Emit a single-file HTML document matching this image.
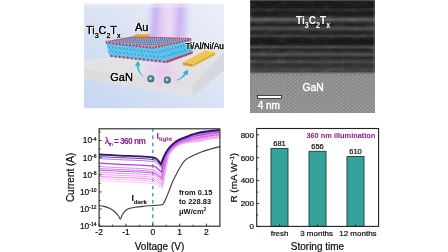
<!DOCTYPE html>
<html><head><meta charset="utf-8"><title>figure</title>
<style>html,body{margin:0;padding:0;background:#fff;}svg{display:block;}</style>
</head><body>
<svg width="448" height="252" viewBox="0 0 448 252">
<defs>
<clipPath id="cpI"><rect x="84" y="3.6" width="140" height="104.8"/></clipPath>
<linearGradient id="gBg" x1="0" y1="1" x2="1" y2="0">
 <stop offset="0" stop-color="#c6d7f0"/><stop offset="0.45" stop-color="#d8e2f4"/><stop offset="1" stop-color="#eceef9"/>
</linearGradient>
<linearGradient id="gBeam" x1="0" y1="0" x2="1" y2="0">
 <stop offset="0" stop-color="#c8b4ec" stop-opacity="0"/>
 <stop offset="0.2" stop-color="#cdb4f0" stop-opacity="0.8"/>
 <stop offset="0.5" stop-color="#f2daf8" stop-opacity="0.95"/>
 <stop offset="0.8" stop-color="#cdb4f0" stop-opacity="0.8"/>
 <stop offset="1" stop-color="#c8b4ec" stop-opacity="0"/>
</linearGradient>
<linearGradient id="gTop" x1="0" y1="0" x2="0" y2="1">
 <stop offset="0" stop-color="#e4e4e7"/><stop offset="1" stop-color="#e0e0e3"/>
</linearGradient>
<linearGradient id="gFront" x1="0" y1="0" x2="0" y2="1">
 <stop offset="0" stop-color="#dadadd"/><stop offset="1" stop-color="#e4e4e8"/>
</linearGradient>
<radialGradient id="gGlow" cx="0.5" cy="0.5" r="0.5">
 <stop offset="0" stop-color="#e8c4f0" stop-opacity="0.95"/><stop offset="0.6" stop-color="#ecd0f2" stop-opacity="0.6"/><stop offset="1" stop-color="#f0d8f4" stop-opacity="0"/>
</radialGradient>
<radialGradient id="gBall" cx="0.5" cy="0.5" r="0.55" fx="0.42" fy="0.42">
 <stop offset="0" stop-color="#f0ffff"/><stop offset="0.18" stop-color="#9cdcdc"/><stop offset="0.5" stop-color="#3c949a"/><stop offset="1" stop-color="#1c5660"/>
</radialGradient>
<linearGradient id="gGold" x1="0" y1="0" x2="0" y2="1">
 <stop offset="0" stop-color="#f3cf5a"/><stop offset="1" stop-color="#e0a92a"/>
</linearGradient>
<linearGradient id="gMx" x1="0" y1="36" x2="0" y2="64" gradientUnits="userSpaceOnUse">
 <stop offset="0" stop-color="#e8283c"/><stop offset="0.12" stop-color="#e8283c"/>
 <stop offset="0.2" stop-color="#38c8f0"/><stop offset="0.35" stop-color="#4aa8dc"/>
 <stop offset="0.5" stop-color="#38c8f0"/><stop offset="0.65" stop-color="#4aa0d8"/>
 <stop offset="0.8" stop-color="#38c8f0"/><stop offset="0.9" stop-color="#5a90c8"/>
 <stop offset="1" stop-color="#e8283c"/>
</linearGradient>
<pattern id="pMx" x="0" y="0" width="3" height="3" patternUnits="userSpaceOnUse" patternTransform="skewX(-40)">
 <rect width="3" height="3" fill="#5ab8e8"/>
 <circle cx="1.5" cy="1.5" r="1" fill="#3fd0f2"/>
</pattern>
</defs>
<g clip-path="url(#cpI)">
<rect x="84" y="3.6" width="140" height="104.8" fill="url(#gBg)"/>
<filter id="fb" x="-0.5" y="-0.2" width="2" height="1.4"><feGaussianBlur stdDeviation="2.2"/></filter>
<g filter="url(#fb)">
<polygon points="151,0 191,0 186,42 146,42" fill="url(#gBeam)"/>
<polygon points="156,0 159.5,0 154.5,40 151,40" fill="#b090e8" opacity="0.45"/>
<polygon points="180,0 183.5,0 178.5,40 175,40" fill="#b090e8" opacity="0.45"/>
</g>
<rect x="84" y="3.6" width="140" height="4" fill="#eef0fa" opacity="0.45"/>
<polygon points="80.0,60.2 225.0,46.5 225.0,51.3 192.6,85.0 80.0,69.0" fill="url(#gTop)"/>
<polygon points="80.0,69.0 192.6,85.0 192.6,97.1 80.0,78.2" fill="url(#gFront)"/>
<polygon points="192.6,85.0 225.0,51.3 225.0,69.5 192.6,97.1" fill="#d6d7dc"/>
<ellipse cx="162" cy="72" rx="22" ry="20" fill="url(#gGlow)"/>
<polygon points="105.6,41.4 133.5,36.5 191.0,38.3 152.0,46.5" fill="#78c6ee"/>
<polygon points="105.6,41.4 152.0,46.5 167.0,63.3 110.0,57.0" fill="#70c8f0"/>
<polygon points="152.0,46.5 191.0,38.3 192.6,53.7 167.0,63.3" fill="#70c8f0"/>
<clipPath id="cpFF"><polygon points="105.6,41.4 152.0,46.5 167.0,63.3 110.0,57.0"/></clipPath><clipPath id="cpRF"><polygon points="152.0,46.5 191.0,38.3 192.6,53.7 167.0,63.3"/></clipPath><clipPath id="cpTF"><polygon points="105.6,41.4 133.5,36.5 191.0,38.3 152.0,46.5"/></clipPath>
<g clip-path="url(#cpFF)">
<path d="M107.80,50.28L108.54,51.45L109.31,52.62M108.47,46.02L109.21,47.19L109.98,48.36M111.55,50.70L112.34,51.87L113.16,53.04M112.00,46.41L112.80,47.58L113.62,48.76M115.30,51.11L116.14,52.29L117.02,53.47M115.53,46.80L116.38,47.98L117.26,49.16M119.04,51.52L119.95,52.71L120.87,53.89M119.06,47.19L119.97,48.37L120.90,49.56M122.79,51.94L123.75,53.13L124.73,54.32M122.59,47.58L123.55,48.77L124.54,49.96M126.54,52.35L127.55,53.55L128.59,54.74M126.12,47.97L127.14,49.16L128.18,50.36M130.28,52.76L131.35,53.96L132.44,55.17M129.65,48.36L130.72,49.56L131.82,50.76M134.03,53.18L135.15,54.38L136.30,55.59M133.18,48.74L134.31,49.95L135.45,51.16M137.78,53.59L138.95,54.80L140.15,56.02M136.71,49.13L137.89,50.35L139.09,51.57M141.53,54.00L142.75,55.22L144.01,56.45M140.24,49.52L141.47,50.74L142.73,51.97M145.27,54.42L146.56,55.64L147.86,56.87M143.77,49.91L145.06,51.14L146.37,52.37M149.02,54.83L150.36,56.06L151.72,57.30M147.30,50.30L148.64,51.53L150.01,52.77M152.77,55.24L154.16,56.48L155.58,57.72M150.83,50.69L152.23,51.93L153.65,53.17M156.51,55.66L157.96,56.90L159.43,58.15M154.36,51.08L155.81,52.32L157.29,53.57M160.26,56.07L161.76,57.32L163.29,58.57" stroke="#5c92c8" stroke-width="0.7" fill="none" stroke-linecap="round"/>
<path d="M109.31,52.62L110.07,53.78L110.86,54.95M107.01,43.70L107.73,44.86L108.47,46.02M109.98,48.36L110.75,49.53L111.55,50.70M113.16,53.04L113.98,54.22L114.83,55.39M110.43,44.07L111.20,45.24L112.00,46.41M113.62,48.76L114.45,49.93L115.30,51.11M117.02,53.47L117.89,54.65L118.79,55.83M113.85,44.45L114.68,45.62L115.53,46.80M117.26,49.16L118.14,50.34L119.04,51.52M120.87,53.89L121.80,55.08L122.76,56.27M117.27,44.83L118.15,46.01L119.06,47.19M120.90,49.56L121.83,50.75L122.79,51.94M124.73,54.32L125.71,55.51L126.72,56.71M120.69,45.20L121.63,46.39L122.59,47.58M124.54,49.96L125.53,51.15L126.54,52.35M128.59,54.74L129.62,55.94L130.68,57.14M124.11,45.58L125.10,46.77L126.12,47.97M128.18,50.36L129.22,51.56L130.28,52.76M132.44,55.17L133.53,56.37L134.65,57.58M127.53,45.95L128.58,47.15L129.65,48.36M131.82,50.76L132.91,51.97L134.03,53.18M136.30,55.59L137.44,56.81L138.61,58.02M130.96,46.33L132.06,47.54L133.18,48.74M135.45,51.16L136.60,52.38L137.78,53.59M140.15,56.02L141.35,57.24L142.58,58.46M134.38,46.71L135.53,47.92L136.71,49.13M139.09,51.57L140.30,52.78L141.53,54.00M144.01,56.45L145.26,57.67L146.54,58.89M137.80,47.08L139.01,48.30L140.24,49.52M142.73,51.97L143.99,53.19L145.27,54.42M147.86,56.87L149.17,58.10L150.50,59.33M141.22,47.46L142.48,48.68L143.77,49.91M146.37,52.37L147.68,53.60L149.02,54.83M151.72,57.30L153.08,58.53L154.47,59.77M144.64,47.84L145.96,49.07L147.30,50.30M150.01,52.77L151.38,54.00L152.77,55.24M155.58,57.72L156.99,58.96L158.43,60.21M148.06,48.21L149.43,49.45L150.83,50.69M153.65,53.17L155.07,54.41L156.51,55.66M159.43,58.15L160.90,59.40L162.40,60.65M151.49,48.59L152.91,49.83L154.36,51.08M157.29,53.57L158.76,54.82L160.26,56.07" stroke="#22d2fa" stroke-width="0.7" fill="none" stroke-linecap="round"/>
<path d="M110.86,54.95L111.65,56.12L111.65,56.12M106.29,42.53L106.29,42.53L107.01,43.70M114.83,55.39L115.67,56.57L115.67,56.57M109.65,42.90L109.65,42.90L110.43,44.07M118.79,55.83L119.69,57.01L119.69,57.01M113.02,43.27L113.02,43.27L113.85,44.45M122.76,56.27L123.71,57.46L123.71,57.46M116.39,43.64L116.39,43.64L117.27,44.83M126.72,56.71L127.73,57.90L127.73,57.90M119.75,44.01L119.75,44.01L120.69,45.20M130.68,57.14L131.75,58.34L131.75,58.34M123.12,44.38L123.12,44.38L124.11,45.58M134.65,57.58L135.76,58.79L135.76,58.79M126.49,44.76L126.49,44.76L127.53,45.95M138.61,58.02L139.78,59.23L139.78,59.23M129.86,45.13L129.86,45.13L130.96,46.33M142.58,58.46L143.80,59.68L143.80,59.68M133.22,45.50L133.22,45.50L134.38,46.71M146.54,58.89L147.82,60.12L147.82,60.12M136.59,45.87L136.59,45.87L137.80,47.08M150.50,59.33L151.84,60.56L151.84,60.56M139.96,46.24L139.96,46.24L141.22,47.46M154.47,59.77L155.86,61.01L155.86,61.01M143.33,46.61L143.33,46.61L144.64,47.84M158.43,60.21L159.87,61.45L159.87,61.45M146.69,46.98L146.69,46.98L148.06,48.21M162.40,60.65L163.89,61.90L163.89,61.90M150.06,47.35L150.06,47.35L151.49,48.59M153.43,47.72L153.43,47.72L154.91,48.97" stroke="#e8283c" stroke-width="0.7" fill="none" stroke-linecap="round"/>
<path d="M107.59,51.45a0.95,0.95 0 1,0 1.9,0a0.95,0.95 0 1,0 -1.9,0M108.26,47.19a0.95,0.95 0 1,0 1.9,0a0.95,0.95 0 1,0 -1.9,0M111.39,51.87a0.95,0.95 0 1,0 1.9,0a0.95,0.95 0 1,0 -1.9,0M111.85,47.58a0.95,0.95 0 1,0 1.9,0a0.95,0.95 0 1,0 -1.9,0M115.19,52.29a0.95,0.95 0 1,0 1.9,0a0.95,0.95 0 1,0 -1.9,0M115.43,47.98a0.95,0.95 0 1,0 1.9,0a0.95,0.95 0 1,0 -1.9,0M119.00,52.71a0.95,0.95 0 1,0 1.9,0a0.95,0.95 0 1,0 -1.9,0M119.02,48.37a0.95,0.95 0 1,0 1.9,0a0.95,0.95 0 1,0 -1.9,0M122.80,53.13a0.95,0.95 0 1,0 1.9,0a0.95,0.95 0 1,0 -1.9,0M122.60,48.77a0.95,0.95 0 1,0 1.9,0a0.95,0.95 0 1,0 -1.9,0M126.60,53.55a0.95,0.95 0 1,0 1.9,0a0.95,0.95 0 1,0 -1.9,0M126.19,49.16a0.95,0.95 0 1,0 1.9,0a0.95,0.95 0 1,0 -1.9,0M130.40,53.96a0.95,0.95 0 1,0 1.9,0a0.95,0.95 0 1,0 -1.9,0M129.77,49.56a0.95,0.95 0 1,0 1.9,0a0.95,0.95 0 1,0 -1.9,0M134.20,54.38a0.95,0.95 0 1,0 1.9,0a0.95,0.95 0 1,0 -1.9,0M133.36,49.95a0.95,0.95 0 1,0 1.9,0a0.95,0.95 0 1,0 -1.9,0M138.00,54.80a0.95,0.95 0 1,0 1.9,0a0.95,0.95 0 1,0 -1.9,0M136.94,50.35a0.95,0.95 0 1,0 1.9,0a0.95,0.95 0 1,0 -1.9,0M141.80,55.22a0.95,0.95 0 1,0 1.9,0a0.95,0.95 0 1,0 -1.9,0M140.52,50.74a0.95,0.95 0 1,0 1.9,0a0.95,0.95 0 1,0 -1.9,0M145.61,55.64a0.95,0.95 0 1,0 1.9,0a0.95,0.95 0 1,0 -1.9,0M144.11,51.14a0.95,0.95 0 1,0 1.9,0a0.95,0.95 0 1,0 -1.9,0M149.41,56.06a0.95,0.95 0 1,0 1.9,0a0.95,0.95 0 1,0 -1.9,0M147.69,51.53a0.95,0.95 0 1,0 1.9,0a0.95,0.95 0 1,0 -1.9,0M153.21,56.48a0.95,0.95 0 1,0 1.9,0a0.95,0.95 0 1,0 -1.9,0M151.28,51.93a0.95,0.95 0 1,0 1.9,0a0.95,0.95 0 1,0 -1.9,0M157.01,56.90a0.95,0.95 0 1,0 1.9,0a0.95,0.95 0 1,0 -1.9,0M154.86,52.32a0.95,0.95 0 1,0 1.9,0a0.95,0.95 0 1,0 -1.9,0M160.81,57.32a0.95,0.95 0 1,0 1.9,0a0.95,0.95 0 1,0 -1.9,0" fill="#5c92c8"/>
<path d="M109.12,53.78a0.95,0.95 0 1,0 1.9,0a0.95,0.95 0 1,0 -1.9,0M106.78,44.86a0.95,0.95 0 1,0 1.9,0a0.95,0.95 0 1,0 -1.9,0M109.80,49.53a0.95,0.95 0 1,0 1.9,0a0.95,0.95 0 1,0 -1.9,0M113.03,54.22a0.95,0.95 0 1,0 1.9,0a0.95,0.95 0 1,0 -1.9,0M110.25,45.24a0.95,0.95 0 1,0 1.9,0a0.95,0.95 0 1,0 -1.9,0M113.50,49.93a0.95,0.95 0 1,0 1.9,0a0.95,0.95 0 1,0 -1.9,0M116.94,54.65a0.95,0.95 0 1,0 1.9,0a0.95,0.95 0 1,0 -1.9,0M113.73,45.62a0.95,0.95 0 1,0 1.9,0a0.95,0.95 0 1,0 -1.9,0M117.19,50.34a0.95,0.95 0 1,0 1.9,0a0.95,0.95 0 1,0 -1.9,0M120.85,55.08a0.95,0.95 0 1,0 1.9,0a0.95,0.95 0 1,0 -1.9,0M117.20,46.01a0.95,0.95 0 1,0 1.9,0a0.95,0.95 0 1,0 -1.9,0M120.88,50.75a0.95,0.95 0 1,0 1.9,0a0.95,0.95 0 1,0 -1.9,0M124.76,55.51a0.95,0.95 0 1,0 1.9,0a0.95,0.95 0 1,0 -1.9,0M120.68,46.39a0.95,0.95 0 1,0 1.9,0a0.95,0.95 0 1,0 -1.9,0M124.58,51.15a0.95,0.95 0 1,0 1.9,0a0.95,0.95 0 1,0 -1.9,0M128.67,55.94a0.95,0.95 0 1,0 1.9,0a0.95,0.95 0 1,0 -1.9,0M124.15,46.77a0.95,0.95 0 1,0 1.9,0a0.95,0.95 0 1,0 -1.9,0M128.27,51.56a0.95,0.95 0 1,0 1.9,0a0.95,0.95 0 1,0 -1.9,0M132.58,56.37a0.95,0.95 0 1,0 1.9,0a0.95,0.95 0 1,0 -1.9,0M127.63,47.15a0.95,0.95 0 1,0 1.9,0a0.95,0.95 0 1,0 -1.9,0M131.96,51.97a0.95,0.95 0 1,0 1.9,0a0.95,0.95 0 1,0 -1.9,0M136.49,56.81a0.95,0.95 0 1,0 1.9,0a0.95,0.95 0 1,0 -1.9,0M131.11,47.54a0.95,0.95 0 1,0 1.9,0a0.95,0.95 0 1,0 -1.9,0M135.65,52.38a0.95,0.95 0 1,0 1.9,0a0.95,0.95 0 1,0 -1.9,0M140.40,57.24a0.95,0.95 0 1,0 1.9,0a0.95,0.95 0 1,0 -1.9,0M134.58,47.92a0.95,0.95 0 1,0 1.9,0a0.95,0.95 0 1,0 -1.9,0M139.35,52.78a0.95,0.95 0 1,0 1.9,0a0.95,0.95 0 1,0 -1.9,0M144.31,57.67a0.95,0.95 0 1,0 1.9,0a0.95,0.95 0 1,0 -1.9,0M138.06,48.30a0.95,0.95 0 1,0 1.9,0a0.95,0.95 0 1,0 -1.9,0M143.04,53.19a0.95,0.95 0 1,0 1.9,0a0.95,0.95 0 1,0 -1.9,0M148.22,58.10a0.95,0.95 0 1,0 1.9,0a0.95,0.95 0 1,0 -1.9,0M141.53,48.68a0.95,0.95 0 1,0 1.9,0a0.95,0.95 0 1,0 -1.9,0M146.73,53.60a0.95,0.95 0 1,0 1.9,0a0.95,0.95 0 1,0 -1.9,0M152.13,58.53a0.95,0.95 0 1,0 1.9,0a0.95,0.95 0 1,0 -1.9,0M145.01,49.07a0.95,0.95 0 1,0 1.9,0a0.95,0.95 0 1,0 -1.9,0M150.43,54.00a0.95,0.95 0 1,0 1.9,0a0.95,0.95 0 1,0 -1.9,0M156.04,58.96a0.95,0.95 0 1,0 1.9,0a0.95,0.95 0 1,0 -1.9,0M148.48,49.45a0.95,0.95 0 1,0 1.9,0a0.95,0.95 0 1,0 -1.9,0M154.12,54.41a0.95,0.95 0 1,0 1.9,0a0.95,0.95 0 1,0 -1.9,0M159.95,59.40a0.95,0.95 0 1,0 1.9,0a0.95,0.95 0 1,0 -1.9,0M151.96,49.83a0.95,0.95 0 1,0 1.9,0a0.95,0.95 0 1,0 -1.9,0M157.81,54.82a0.95,0.95 0 1,0 1.9,0a0.95,0.95 0 1,0 -1.9,0" fill="#22d2fa"/>
<path d="M110.51,56.12a1.14,1.14 0 1,0 2.28,0a1.14,1.14 0 1,0 -2.28,0M105.15,42.53a1.14,1.14 0 1,0 2.28,0a1.14,1.14 0 1,0 -2.28,0M114.53,56.57a1.14,1.14 0 1,0 2.28,0a1.14,1.14 0 1,0 -2.28,0M108.51,42.90a1.14,1.14 0 1,0 2.28,0a1.14,1.14 0 1,0 -2.28,0M118.55,57.01a1.14,1.14 0 1,0 2.28,0a1.14,1.14 0 1,0 -2.28,0M111.88,43.27a1.14,1.14 0 1,0 2.28,0a1.14,1.14 0 1,0 -2.28,0M122.57,57.46a1.14,1.14 0 1,0 2.28,0a1.14,1.14 0 1,0 -2.28,0M115.25,43.64a1.14,1.14 0 1,0 2.28,0a1.14,1.14 0 1,0 -2.28,0M126.59,57.90a1.14,1.14 0 1,0 2.28,0a1.14,1.14 0 1,0 -2.28,0M118.61,44.01a1.14,1.14 0 1,0 2.28,0a1.14,1.14 0 1,0 -2.28,0M130.61,58.34a1.14,1.14 0 1,0 2.28,0a1.14,1.14 0 1,0 -2.28,0M121.98,44.38a1.14,1.14 0 1,0 2.28,0a1.14,1.14 0 1,0 -2.28,0M134.62,58.79a1.14,1.14 0 1,0 2.28,0a1.14,1.14 0 1,0 -2.28,0M125.35,44.76a1.14,1.14 0 1,0 2.28,0a1.14,1.14 0 1,0 -2.28,0M138.64,59.23a1.14,1.14 0 1,0 2.28,0a1.14,1.14 0 1,0 -2.28,0M128.72,45.13a1.14,1.14 0 1,0 2.28,0a1.14,1.14 0 1,0 -2.28,0M142.66,59.68a1.14,1.14 0 1,0 2.28,0a1.14,1.14 0 1,0 -2.28,0M132.08,45.50a1.14,1.14 0 1,0 2.28,0a1.14,1.14 0 1,0 -2.28,0M146.68,60.12a1.14,1.14 0 1,0 2.28,0a1.14,1.14 0 1,0 -2.28,0M135.45,45.87a1.14,1.14 0 1,0 2.28,0a1.14,1.14 0 1,0 -2.28,0M150.70,60.56a1.14,1.14 0 1,0 2.28,0a1.14,1.14 0 1,0 -2.28,0M138.82,46.24a1.14,1.14 0 1,0 2.28,0a1.14,1.14 0 1,0 -2.28,0M154.72,61.01a1.14,1.14 0 1,0 2.28,0a1.14,1.14 0 1,0 -2.28,0M142.19,46.61a1.14,1.14 0 1,0 2.28,0a1.14,1.14 0 1,0 -2.28,0M158.73,61.45a1.14,1.14 0 1,0 2.28,0a1.14,1.14 0 1,0 -2.28,0M145.55,46.98a1.14,1.14 0 1,0 2.28,0a1.14,1.14 0 1,0 -2.28,0M162.75,61.90a1.14,1.14 0 1,0 2.28,0a1.14,1.14 0 1,0 -2.28,0M148.92,47.35a1.14,1.14 0 1,0 2.28,0a1.14,1.14 0 1,0 -2.28,0M152.29,47.72a1.14,1.14 0 1,0 2.28,0a1.14,1.14 0 1,0 -2.28,0" fill="#e8283c"/>
</g><g clip-path="url(#cpRF)">
<path d="M153.05,47.68L153.05,47.68L154.12,48.88M164.88,60.92L165.95,62.12L165.95,62.12M155.98,47.04L155.98,47.04L156.98,48.23M166.99,60.20L167.99,61.39L167.99,61.39M158.91,46.40L158.91,46.40L159.83,47.59M169.11,59.47L170.03,60.66L170.03,60.66M161.83,45.76L161.83,45.76L162.69,46.94M171.22,58.75L172.07,59.93L172.07,59.93M164.76,45.12L164.76,45.12L165.54,46.30M173.34,58.03L174.12,59.20L174.12,59.20M167.69,44.48L167.69,44.48L168.39,45.65M175.45,57.30L176.16,58.47L176.16,58.47M170.62,43.85L170.62,43.85L171.25,45.00M177.57,56.58L178.20,57.74L178.20,57.74M173.54,43.21L173.54,43.21L174.10,44.36M179.68,55.86L180.24,57.01L180.24,57.01M176.47,42.57L176.47,42.57L176.96,43.71M181.80,55.13L182.28,56.28L182.28,56.28M179.40,41.93L179.40,41.93L179.81,43.07M183.91,54.41L184.32,55.55L184.32,55.55M182.33,41.29L182.33,41.29L182.66,42.42M186.03,53.69L186.36,54.81L186.36,54.81M185.26,40.65L185.26,40.65L185.52,41.77M188.14,52.96L188.41,54.08L188.41,54.08M188.18,40.02L188.18,40.02L188.37,41.13M190.26,52.24L190.45,53.35L190.45,53.35M191.11,39.38L191.11,39.38L191.23,40.48M192.37,51.52L192.49,52.62L192.49,52.62" stroke="#e8283c" stroke-width="0.7" fill="none" stroke-linecap="round"/>
<path d="M154.12,48.88L155.20,50.08L156.27,51.29M158.43,53.70L159.50,54.90L160.57,56.10M162.73,58.51L163.80,59.72L164.88,60.92M156.98,48.23L157.98,49.43L158.98,50.63M160.98,53.02L161.98,54.22L162.99,55.41M164.99,57.80L165.99,59.00L166.99,60.20M159.83,47.59L160.76,48.78L161.69,49.97M163.54,52.34L164.47,53.53L165.40,54.72M167.25,57.10L168.18,58.29L169.11,59.47M162.69,46.94L163.54,48.12L164.39,49.30M166.10,51.67L166.95,52.85L167.81,54.03M169.51,56.39L170.37,57.57L171.22,58.75M165.54,46.30L166.32,47.47L167.10,48.64M168.66,50.99L169.44,52.16L170.22,53.33M171.78,55.68L172.56,56.85L173.34,58.03M168.39,45.65L169.10,46.82L169.81,47.98M171.22,50.31L171.92,51.48L172.63,52.64M174.04,54.97L174.75,56.14L175.45,57.30M171.25,45.00L171.88,46.16L172.51,47.32M173.78,49.63L174.41,50.79L175.04,51.95M176.30,54.27L176.93,55.42L177.57,56.58M174.10,44.36L174.66,45.51L175.22,46.66M176.33,48.96L176.89,50.11L177.45,51.26M178.57,53.56L179.12,54.71L179.68,55.86M176.96,43.71L177.44,44.85L177.92,46.00M178.89,48.28L179.38,49.42L179.86,50.57M180.83,52.85L181.31,53.99L181.80,55.13M179.81,43.07L180.22,44.20L180.63,45.33M181.45,47.60L181.86,48.74L182.27,49.87M183.09,52.14L183.50,53.28L183.91,54.41M182.66,42.42L183.00,43.55L183.34,44.67M184.01,46.93L184.35,48.05L184.68,49.18M185.36,51.43L185.69,52.56L186.03,53.69M185.52,41.77L185.78,42.89L186.04,44.01M186.57,46.25L186.83,47.37L187.09,48.49M187.62,50.73L187.88,51.85L188.14,52.96M188.37,41.13L188.56,42.24L188.75,43.35M189.13,45.57L189.32,46.68L189.50,47.80M189.88,50.02L190.07,51.13L190.26,52.24M191.23,40.48L191.34,41.59L191.46,42.69M191.69,44.90L191.80,46.00L191.91,47.10M192.14,49.31L192.26,50.41L192.37,51.52" stroke="#22d2fa" stroke-width="0.7" fill="none" stroke-linecap="round"/>
<path d="M156.27,51.29L157.35,52.49L158.43,53.70M160.57,56.10L161.65,57.31L162.73,58.51M158.98,50.63L159.98,51.82L160.98,53.02M162.99,55.41L163.99,56.61L164.99,57.80M161.69,49.97L162.61,51.15L163.54,52.34M165.40,54.72L166.32,55.91L167.25,57.10M164.39,49.30L165.25,50.48L166.10,51.67M167.81,54.03L168.66,55.21L169.51,56.39M167.10,48.64L167.88,49.82L168.66,50.99M170.22,53.33L171.00,54.51L171.78,55.68M169.81,47.98L170.51,49.15L171.22,50.31M172.63,52.64L173.33,53.81L174.04,54.97M172.51,47.32L173.14,48.48L173.78,49.63M175.04,51.95L175.67,53.11L176.30,54.27M175.22,46.66L175.78,47.81L176.33,48.96M177.45,51.26L178.01,52.41L178.57,53.56M177.92,46.00L178.41,47.14L178.89,48.28M179.86,50.57L180.34,51.71L180.83,52.85M180.63,45.33L181.04,46.47L181.45,47.60M182.27,49.87L182.68,51.01L183.09,52.14M183.34,44.67L183.67,45.80L184.01,46.93M184.68,49.18L185.02,50.31L185.36,51.43M186.04,44.01L186.31,45.13L186.57,46.25M187.09,48.49L187.36,49.61L187.62,50.73M188.75,43.35L188.94,44.46L189.13,45.57M189.50,47.80L189.69,48.91L189.88,50.02M191.46,42.69L191.57,43.79L191.69,44.90M191.91,47.10L192.03,48.21L192.14,49.31" stroke="#5c92c8" stroke-width="0.7" fill="none" stroke-linecap="round"/>
<path d="M151.91,47.68a1.14,1.14 0 1,0 2.28,0a1.14,1.14 0 1,0 -2.28,0M164.81,62.12a1.14,1.14 0 1,0 2.28,0a1.14,1.14 0 1,0 -2.28,0M154.84,47.04a1.14,1.14 0 1,0 2.28,0a1.14,1.14 0 1,0 -2.28,0M166.85,61.39a1.14,1.14 0 1,0 2.28,0a1.14,1.14 0 1,0 -2.28,0M157.77,46.40a1.14,1.14 0 1,0 2.28,0a1.14,1.14 0 1,0 -2.28,0M168.89,60.66a1.14,1.14 0 1,0 2.28,0a1.14,1.14 0 1,0 -2.28,0M160.69,45.76a1.14,1.14 0 1,0 2.28,0a1.14,1.14 0 1,0 -2.28,0M170.93,59.93a1.14,1.14 0 1,0 2.28,0a1.14,1.14 0 1,0 -2.28,0M163.62,45.12a1.14,1.14 0 1,0 2.28,0a1.14,1.14 0 1,0 -2.28,0M172.98,59.20a1.14,1.14 0 1,0 2.28,0a1.14,1.14 0 1,0 -2.28,0M166.55,44.48a1.14,1.14 0 1,0 2.28,0a1.14,1.14 0 1,0 -2.28,0M175.02,58.47a1.14,1.14 0 1,0 2.28,0a1.14,1.14 0 1,0 -2.28,0M169.48,43.85a1.14,1.14 0 1,0 2.28,0a1.14,1.14 0 1,0 -2.28,0M177.06,57.74a1.14,1.14 0 1,0 2.28,0a1.14,1.14 0 1,0 -2.28,0M172.40,43.21a1.14,1.14 0 1,0 2.28,0a1.14,1.14 0 1,0 -2.28,0M179.10,57.01a1.14,1.14 0 1,0 2.28,0a1.14,1.14 0 1,0 -2.28,0M175.33,42.57a1.14,1.14 0 1,0 2.28,0a1.14,1.14 0 1,0 -2.28,0M181.14,56.28a1.14,1.14 0 1,0 2.28,0a1.14,1.14 0 1,0 -2.28,0M178.26,41.93a1.14,1.14 0 1,0 2.28,0a1.14,1.14 0 1,0 -2.28,0M183.18,55.55a1.14,1.14 0 1,0 2.28,0a1.14,1.14 0 1,0 -2.28,0M181.19,41.29a1.14,1.14 0 1,0 2.28,0a1.14,1.14 0 1,0 -2.28,0M185.22,54.81a1.14,1.14 0 1,0 2.28,0a1.14,1.14 0 1,0 -2.28,0M184.12,40.65a1.14,1.14 0 1,0 2.28,0a1.14,1.14 0 1,0 -2.28,0M187.27,54.08a1.14,1.14 0 1,0 2.28,0a1.14,1.14 0 1,0 -2.28,0M187.04,40.02a1.14,1.14 0 1,0 2.28,0a1.14,1.14 0 1,0 -2.28,0M189.31,53.35a1.14,1.14 0 1,0 2.28,0a1.14,1.14 0 1,0 -2.28,0M189.97,39.38a1.14,1.14 0 1,0 2.28,0a1.14,1.14 0 1,0 -2.28,0M191.35,52.62a1.14,1.14 0 1,0 2.28,0a1.14,1.14 0 1,0 -2.28,0" fill="#e8283c"/>
<path d="M154.25,50.08a0.95,0.95 0 1,0 1.9,0a0.95,0.95 0 1,0 -1.9,0M158.55,54.90a0.95,0.95 0 1,0 1.9,0a0.95,0.95 0 1,0 -1.9,0M162.85,59.72a0.95,0.95 0 1,0 1.9,0a0.95,0.95 0 1,0 -1.9,0M157.03,49.43a0.95,0.95 0 1,0 1.9,0a0.95,0.95 0 1,0 -1.9,0M161.03,54.22a0.95,0.95 0 1,0 1.9,0a0.95,0.95 0 1,0 -1.9,0M165.04,59.00a0.95,0.95 0 1,0 1.9,0a0.95,0.95 0 1,0 -1.9,0M159.81,48.78a0.95,0.95 0 1,0 1.9,0a0.95,0.95 0 1,0 -1.9,0M163.52,53.53a0.95,0.95 0 1,0 1.9,0a0.95,0.95 0 1,0 -1.9,0M167.23,58.29a0.95,0.95 0 1,0 1.9,0a0.95,0.95 0 1,0 -1.9,0M162.59,48.12a0.95,0.95 0 1,0 1.9,0a0.95,0.95 0 1,0 -1.9,0M166.00,52.85a0.95,0.95 0 1,0 1.9,0a0.95,0.95 0 1,0 -1.9,0M169.42,57.57a0.95,0.95 0 1,0 1.9,0a0.95,0.95 0 1,0 -1.9,0M165.37,47.47a0.95,0.95 0 1,0 1.9,0a0.95,0.95 0 1,0 -1.9,0M168.49,52.16a0.95,0.95 0 1,0 1.9,0a0.95,0.95 0 1,0 -1.9,0M171.61,56.85a0.95,0.95 0 1,0 1.9,0a0.95,0.95 0 1,0 -1.9,0M168.15,46.82a0.95,0.95 0 1,0 1.9,0a0.95,0.95 0 1,0 -1.9,0M170.97,51.48a0.95,0.95 0 1,0 1.9,0a0.95,0.95 0 1,0 -1.9,0M173.80,56.14a0.95,0.95 0 1,0 1.9,0a0.95,0.95 0 1,0 -1.9,0M170.93,46.16a0.95,0.95 0 1,0 1.9,0a0.95,0.95 0 1,0 -1.9,0M173.46,50.79a0.95,0.95 0 1,0 1.9,0a0.95,0.95 0 1,0 -1.9,0M175.98,55.42a0.95,0.95 0 1,0 1.9,0a0.95,0.95 0 1,0 -1.9,0M173.71,45.51a0.95,0.95 0 1,0 1.9,0a0.95,0.95 0 1,0 -1.9,0M175.94,50.11a0.95,0.95 0 1,0 1.9,0a0.95,0.95 0 1,0 -1.9,0M178.17,54.71a0.95,0.95 0 1,0 1.9,0a0.95,0.95 0 1,0 -1.9,0M176.49,44.85a0.95,0.95 0 1,0 1.9,0a0.95,0.95 0 1,0 -1.9,0M178.43,49.42a0.95,0.95 0 1,0 1.9,0a0.95,0.95 0 1,0 -1.9,0M180.36,53.99a0.95,0.95 0 1,0 1.9,0a0.95,0.95 0 1,0 -1.9,0M179.27,44.20a0.95,0.95 0 1,0 1.9,0a0.95,0.95 0 1,0 -1.9,0M180.91,48.74a0.95,0.95 0 1,0 1.9,0a0.95,0.95 0 1,0 -1.9,0M182.55,53.28a0.95,0.95 0 1,0 1.9,0a0.95,0.95 0 1,0 -1.9,0M182.05,43.55a0.95,0.95 0 1,0 1.9,0a0.95,0.95 0 1,0 -1.9,0M183.40,48.05a0.95,0.95 0 1,0 1.9,0a0.95,0.95 0 1,0 -1.9,0M184.74,52.56a0.95,0.95 0 1,0 1.9,0a0.95,0.95 0 1,0 -1.9,0M184.83,42.89a0.95,0.95 0 1,0 1.9,0a0.95,0.95 0 1,0 -1.9,0M185.88,47.37a0.95,0.95 0 1,0 1.9,0a0.95,0.95 0 1,0 -1.9,0M186.93,51.85a0.95,0.95 0 1,0 1.9,0a0.95,0.95 0 1,0 -1.9,0M187.61,42.24a0.95,0.95 0 1,0 1.9,0a0.95,0.95 0 1,0 -1.9,0M188.37,46.68a0.95,0.95 0 1,0 1.9,0a0.95,0.95 0 1,0 -1.9,0M189.12,51.13a0.95,0.95 0 1,0 1.9,0a0.95,0.95 0 1,0 -1.9,0M190.39,41.59a0.95,0.95 0 1,0 1.9,0a0.95,0.95 0 1,0 -1.9,0M190.85,46.00a0.95,0.95 0 1,0 1.9,0a0.95,0.95 0 1,0 -1.9,0M191.31,50.41a0.95,0.95 0 1,0 1.9,0a0.95,0.95 0 1,0 -1.9,0" fill="#22d2fa"/>
<path d="M156.40,52.49a0.95,0.95 0 1,0 1.9,0a0.95,0.95 0 1,0 -1.9,0M160.70,57.31a0.95,0.95 0 1,0 1.9,0a0.95,0.95 0 1,0 -1.9,0M159.03,51.82a0.95,0.95 0 1,0 1.9,0a0.95,0.95 0 1,0 -1.9,0M163.04,56.61a0.95,0.95 0 1,0 1.9,0a0.95,0.95 0 1,0 -1.9,0M161.66,51.15a0.95,0.95 0 1,0 1.9,0a0.95,0.95 0 1,0 -1.9,0M165.37,55.91a0.95,0.95 0 1,0 1.9,0a0.95,0.95 0 1,0 -1.9,0M164.30,50.48a0.95,0.95 0 1,0 1.9,0a0.95,0.95 0 1,0 -1.9,0M167.71,55.21a0.95,0.95 0 1,0 1.9,0a0.95,0.95 0 1,0 -1.9,0M166.93,49.82a0.95,0.95 0 1,0 1.9,0a0.95,0.95 0 1,0 -1.9,0M170.05,54.51a0.95,0.95 0 1,0 1.9,0a0.95,0.95 0 1,0 -1.9,0M169.56,49.15a0.95,0.95 0 1,0 1.9,0a0.95,0.95 0 1,0 -1.9,0M172.38,53.81a0.95,0.95 0 1,0 1.9,0a0.95,0.95 0 1,0 -1.9,0M172.19,48.48a0.95,0.95 0 1,0 1.9,0a0.95,0.95 0 1,0 -1.9,0M174.72,53.11a0.95,0.95 0 1,0 1.9,0a0.95,0.95 0 1,0 -1.9,0M174.83,47.81a0.95,0.95 0 1,0 1.9,0a0.95,0.95 0 1,0 -1.9,0M177.06,52.41a0.95,0.95 0 1,0 1.9,0a0.95,0.95 0 1,0 -1.9,0M177.46,47.14a0.95,0.95 0 1,0 1.9,0a0.95,0.95 0 1,0 -1.9,0M179.39,51.71a0.95,0.95 0 1,0 1.9,0a0.95,0.95 0 1,0 -1.9,0M180.09,46.47a0.95,0.95 0 1,0 1.9,0a0.95,0.95 0 1,0 -1.9,0M181.73,51.01a0.95,0.95 0 1,0 1.9,0a0.95,0.95 0 1,0 -1.9,0M182.72,45.80a0.95,0.95 0 1,0 1.9,0a0.95,0.95 0 1,0 -1.9,0M184.07,50.31a0.95,0.95 0 1,0 1.9,0a0.95,0.95 0 1,0 -1.9,0M185.36,45.13a0.95,0.95 0 1,0 1.9,0a0.95,0.95 0 1,0 -1.9,0M186.41,49.61a0.95,0.95 0 1,0 1.9,0a0.95,0.95 0 1,0 -1.9,0M187.99,44.46a0.95,0.95 0 1,0 1.9,0a0.95,0.95 0 1,0 -1.9,0M188.74,48.91a0.95,0.95 0 1,0 1.9,0a0.95,0.95 0 1,0 -1.9,0M190.62,43.79a0.95,0.95 0 1,0 1.9,0a0.95,0.95 0 1,0 -1.9,0M191.08,48.21a0.95,0.95 0 1,0 1.9,0a0.95,0.95 0 1,0 -1.9,0" fill="#5c92c8"/>
</g>
<g clip-path="url(#cpTF)">
<polygon points="105.6,41.4 133.5,36.5 191.0,38.3 152.0,46.5" fill="#52c4f0"/>
<path d="M98.00,33 l4.5,16M100.10,33 l4.5,16M102.20,33 l4.5,16M104.30,33 l4.5,16M106.40,33 l4.5,16M108.50,33 l4.5,16M110.60,33 l4.5,16M112.70,33 l4.5,16M114.80,33 l4.5,16M116.90,33 l4.5,16M119.00,33 l4.5,16M121.10,33 l4.5,16M123.20,33 l4.5,16M125.30,33 l4.5,16M127.40,33 l4.5,16M129.50,33 l4.5,16M131.60,33 l4.5,16M133.70,33 l4.5,16M135.80,33 l4.5,16M137.90,33 l4.5,16M140.00,33 l4.5,16M142.10,33 l4.5,16M144.20,33 l4.5,16M146.30,33 l4.5,16M148.40,33 l4.5,16M150.50,33 l4.5,16M152.60,33 l4.5,16M154.70,33 l4.5,16M156.80,33 l4.5,16M158.90,33 l4.5,16M161.00,33 l4.5,16M163.10,33 l4.5,16M165.20,33 l4.5,16M167.30,33 l4.5,16M169.40,33 l4.5,16M171.50,33 l4.5,16M173.60,33 l4.5,16M175.70,33 l4.5,16M177.80,33 l4.5,16M179.90,33 l4.5,16M182.00,33 l4.5,16M184.10,33 l4.5,16M186.20,33 l4.5,16M188.30,33 l4.5,16M190.40,33 l4.5,16M192.50,33 l4.5,16M194.60,33 l4.5,16" stroke="#ea2a48" stroke-width="1.0" stroke-dasharray="1.5 0.7" fill="none"/>
</g>
<polyline points="105.8,41.6 133.5,36.8 190.8,38.5" fill="none" stroke="#ea2a48" stroke-width="1.1" stroke-dasharray="1.2 0.9"/>
<polygon points="133.5,36.8 135.5,34.2 149.5,34.2 150.5,36.8" fill="#eaa531"/>
<polygon points="133.5,36.8 150.5,36.8 150.5,37.6 133.5,37.6" fill="#c87a20"/>
<polygon points="183.0,62.2 192.5,64.0 192.5,66.8 183.0,65.0" fill="#d49a2c"/>
<polygon points="192.5,64.0 215.0,52.3 215.0,55.1 192.5,66.8" fill="#e0aa3a"/>
<polygon points="183.0,62.2 205.5,50.5 215.0,52.3 192.5,64.0" fill="#efc650"/>
<circle cx="150.8" cy="78.8" r="4.6" fill="#f6d4ec" opacity="0.8"/>
<circle cx="167.3" cy="80.1" r="4.6" fill="#f6d4ec" opacity="0.8"/>
<circle cx="150.8" cy="78.8" r="3.5" fill="url(#gBall)"/>
<circle cx="167.3" cy="80.1" r="3.5" fill="url(#gBall)"/>
<polygon points="144.2,76.8 143.5,76.3 143.0,75.7 142.4,75.1 141.9,74.5 141.4,73.9 141.0,73.2 140.6,72.5 140.2,71.8 139.9,71.1 139.6,70.3 139.4,69.5 139.2,68.7 139.0,67.8 138.9,67.0 138.9,66.1 138.8,65.1 136.6,65.3 136.7,66.3 136.9,67.3 137.1,68.3 137.4,69.2 137.7,70.1 138.1,70.9 138.5,71.7 139.0,72.5 139.5,73.2 140.0,73.9 140.6,74.6 141.2,75.2 141.8,75.7 142.5,76.3 143.2,76.8 143.8,77.2" fill="#22b6c8" stroke="#f4d0e8" stroke-width="0.4"/>
<polygon points="134.9,65.9 137.8,60.7 140.5,65.5" fill="#22b6c8"/>
<polygon points="175.2,80.5 176.1,80.5 176.9,80.4 177.7,80.2 178.5,80.0 179.3,79.7 180.0,79.4 180.8,79.0 181.5,78.6 182.2,78.1 182.9,77.6 183.5,77.1 184.2,76.6 184.8,76.0 185.3,75.3 185.9,74.7 186.4,74.0 184.4,72.8 184.1,73.4 183.7,74.1 183.3,74.7 182.8,75.3 182.3,75.9 181.8,76.4 181.3,76.9 180.7,77.4 180.1,77.9 179.5,78.3 178.8,78.7 178.1,79.1 177.4,79.4 176.7,79.7 175.9,79.9 175.2,80.1" fill="#22b6c8" stroke="#f4d0e8" stroke-width="0.4"/>
<polygon points="182.9,72.4 187.8,69.4 187.9,75" fill="#22b6c8"/>
<text x="86" y="34.1" textLength="34.5" lengthAdjust="spacingAndGlyphs" font-family='"Liberation Sans", Arial, sans-serif' font-size="11.5" fill="#111" paint-order="stroke" stroke="#ffffff" stroke-width="1.6" stroke-linejoin="round">Ti<tspan font-size="7.5" dy="3.8">3</tspan><tspan dy="-3.8">C</tspan><tspan font-size="7.5" dy="3.8">2</tspan><tspan dy="-3.8">T</tspan><tspan font-size="7.5" dy="4.2">x</tspan></text>
<text x="86" y="34.1" textLength="34.5" lengthAdjust="spacingAndGlyphs" font-family='"Liberation Sans", Arial, sans-serif' font-size="11.5" fill="#111" stroke="#111" stroke-width="0.3">Ti<tspan font-size="7.5" dy="3.8">3</tspan><tspan dy="-3.8">C</tspan><tspan font-size="7.5" dy="3.8">2</tspan><tspan dy="-3.8">T</tspan><tspan font-size="7.5" dy="4.2">x</tspan></text>
<text x="135" y="31" font-family='"Liberation Sans", Arial, sans-serif' font-size="11" fill="#111" paint-order="stroke" stroke="#ffffff" stroke-width="1.6" stroke-linejoin="round">Au</text>
<text x="135" y="31" font-family='"Liberation Sans", Arial, sans-serif' font-size="11" fill="#111" stroke="#111" stroke-width="0.3">Au</text>
<text x="185.5" y="48.7" font-family='"Liberation Sans", Arial, sans-serif' font-size="8.2" fill="#111" paint-order="stroke" stroke="#ffffff" stroke-width="1.6" stroke-linejoin="round">Ti/Al/Ni/Au</text>
<text x="185.5" y="48.7" font-family='"Liberation Sans", Arial, sans-serif' font-size="8.2" fill="#111" stroke="#111" stroke-width="0.25">Ti/Al/Ni/Au</text>
<text x="110.3" y="81" font-family='"Liberation Sans", Arial, sans-serif' font-size="11" fill="#111" paint-order="stroke" stroke="#ffffff" stroke-width="1.6" stroke-linejoin="round">GaN</text>
<text x="110.3" y="81" font-family='"Liberation Sans", Arial, sans-serif' font-size="11" fill="#111" stroke="#111" stroke-width="0.35">GaN</text>
</g>
<defs>
<linearGradient id="gTem" x1="0" y1="0" x2="0" y2="113" gradientUnits="userSpaceOnUse"><stop offset="0.0000" stop-color="rgb(130,130,130)"/><stop offset="0.0088" stop-color="rgb(22,22,22)"/><stop offset="0.0619" stop-color="rgb(22,22,22)"/><stop offset="0.0885" stop-color="rgb(40,40,40)"/><stop offset="0.1150" stop-color="rgb(22,22,22)"/><stop offset="0.1372" stop-color="rgb(28,28,28)"/><stop offset="0.1726" stop-color="rgb(88,88,88)"/><stop offset="0.1991" stop-color="rgb(48,48,48)"/><stop offset="0.2168" stop-color="rgb(26,26,26)"/><stop offset="0.2522" stop-color="rgb(74,74,74)"/><stop offset="0.2788" stop-color="rgb(38,38,38)"/><stop offset="0.2920" stop-color="rgb(26,26,26)"/><stop offset="0.3186" stop-color="rgb(62,62,62)"/><stop offset="0.3407" stop-color="rgb(24,24,24)"/><stop offset="0.3717" stop-color="rgb(18,18,18)"/><stop offset="0.3938" stop-color="rgb(28,28,28)"/><stop offset="0.4159" stop-color="rgb(72,72,72)"/><stop offset="0.4381" stop-color="rgb(34,34,34)"/><stop offset="0.4513" stop-color="rgb(34,34,34)"/><stop offset="0.4823" stop-color="rgb(78,78,78)"/><stop offset="0.5088" stop-color="rgb(38,38,38)"/><stop offset="0.5221" stop-color="rgb(42,42,42)"/><stop offset="0.5487" stop-color="rgb(70,70,70)"/><stop offset="0.5664" stop-color="rgb(46,46,46)"/><stop offset="0.5841" stop-color="rgb(44,44,44)"/><stop offset="0.6106" stop-color="rgb(62,62,62)"/><stop offset="0.6327" stop-color="rgb(64,64,64)"/><stop offset="0.6442" stop-color="rgb(100,100,100)"/><stop offset="0.6549" stop-color="rgb(140,140,140)"/><stop offset="0.6726" stop-color="rgb(148,148,148)"/><stop offset="1.0000" stop-color="rgb(152,152,152)"/></linearGradient>
<pattern id="pGaN" x="250" y="74.5" width="4.4" height="3.6" patternUnits="userSpaceOnUse">
 <rect width="4.4" height="3.6" fill="#000" fill-opacity="0.10"/>
 <ellipse cx="1.1" cy="0.9" rx="0.9" ry="0.9" fill="#fff" fill-opacity="0.26"/>
 <ellipse cx="3.3" cy="2.7" rx="0.9" ry="0.9" fill="#fff" fill-opacity="0.26"/>
</pattern>
<pattern id="pTi" x="250" y="0" width="2.2" height="2.4" patternUnits="userSpaceOnUse">
 <circle cx="1.1" cy="1.2" r="0.7" fill="#fff" fill-opacity="0.06"/>
</pattern>
</defs>
<rect x="250" y="0" width="125" height="113" fill="url(#gTem)"/>
<rect x="250" y="1" width="125" height="73" fill="url(#pTi)"/>
<filter id="fn" x="0" y="0" width="1" height="1"><feTurbulence type="fractalNoise" baseFrequency="0.09 0.22" numOctaves="2" seed="7"/><feColorMatrix type="matrix" values="0 0 0 0 1  0 0 0 0 1  0 0 0 0 1  0.9 0 0 0 -0.42"/></filter>
<rect x="250" y="1" width="125" height="72" filter="url(#fn)" opacity="0.22"/>
<rect x="250" y="74" width="125" height="39" fill="url(#pGaN)"/>
<rect x="250" y="0" width="1.2" height="74" fill="#fff" fill-opacity="0.12"/>
<rect x="373.5" y="0" width="1.5" height="74" fill="#fff" fill-opacity="0.15"/>
<text x="296" y="23.6" textLength="34.2" lengthAdjust="spacingAndGlyphs" font-family='"Liberation Sans", Arial, sans-serif' font-size="11.6" font-weight="bold" fill="#fff">Ti<tspan font-size="8.2" dy="4.8">3</tspan><tspan dy="-4.8">C</tspan><tspan font-size="8.2" dy="4.8">2</tspan><tspan dy="-4.8">T</tspan><tspan font-size="8.2" dy="4.6">x</tspan></text>
<text x="302.4" y="90.5" textLength="21.2" lengthAdjust="spacingAndGlyphs" font-family='"Liberation Sans", Arial, sans-serif' font-size="10.2" fill="#fff" stroke="#fff" stroke-width="0.4">GaN</text>
<rect x="257.5" y="95.5" width="24" height="3" fill="#fff" stroke="#222" stroke-width="0.8"/>
<text x="257.7" y="108.6" font-family='"Liberation Sans", Arial, sans-serif' font-size="10" fill="#fff" stroke="#fff" stroke-width="0.4">4 nm</text>
<line x1="152.79" y1="128.8" x2="152.79" y2="226.2" stroke="#45aaa8" stroke-width="1.5" stroke-dasharray="3.5 3.68" stroke-dashoffset="0.5"/>
<path d="M99.00,180.60 C102.50,180.78 113.17,181.38 120.00,181.70 C126.83,182.02 134.50,182.18 140.00,182.50 C145.50,182.82 150.28,183.22 153.00,183.60 C155.72,183.98 155.42,184.28 156.30,184.80 C157.18,185.32 157.97,186.38 158.30,186.70 L162.50,188.60 C163.50,183.47 167.03,163.86 168.50,157.80 C169.97,151.74 170.37,153.72 171.30,152.23 C172.23,150.73 172.95,149.88 174.10,148.82 C175.25,147.76 176.76,146.72 178.20,145.88 C179.64,145.04 181.08,144.29 182.76,143.77 C184.45,143.25 186.55,143.04 188.34,142.76 C190.12,142.48 191.73,142.24 193.47,142.10 C195.21,141.96 196.46,142.25 198.77,141.90 C201.09,141.55 203.87,140.60 207.35,140.00 C210.83,139.40 217.60,138.58 219.65,138.30" fill="none" stroke="#f4ccf4" stroke-width="1" stroke-linejoin="miter"/>
<path d="M99.00,178.50 C102.50,178.68 113.17,179.28 120.00,179.60 C126.83,179.92 134.50,180.08 140.00,180.40 C145.50,180.72 150.28,181.12 153.00,181.50 C155.72,181.88 155.42,182.18 156.30,182.70 C157.18,183.22 157.97,184.28 158.30,184.60 L162.35,186.64 C163.30,181.83 166.62,163.54 168.03,157.80 C169.44,152.06 169.89,153.73 170.83,152.23 C171.76,150.72 172.48,149.83 173.63,148.75 C174.78,147.66 176.28,146.58 177.73,145.70 C179.18,144.82 180.62,144.03 182.32,143.47 C184.03,142.90 186.16,142.62 187.96,142.29 C189.77,141.96 191.39,141.68 193.15,141.48 C194.91,141.29 196.18,141.50 198.52,141.13 C200.86,140.75 203.68,139.83 207.20,139.23 C210.72,138.63 217.57,137.81 219.64,137.53" fill="none" stroke="#f2b8f2" stroke-width="1" stroke-linejoin="miter"/>
<path d="M99.00,176.40 C102.50,176.58 113.17,177.18 120.00,177.50 C126.83,177.82 134.50,177.98 140.00,178.30 C145.50,178.62 150.28,179.02 153.00,179.40 C155.72,179.78 155.42,180.08 156.30,180.60 C157.18,181.12 157.97,182.18 158.30,182.50 L162.21,184.67 C163.10,180.19 166.20,163.21 167.55,157.80 C168.91,152.39 169.42,153.74 170.35,152.22 C171.29,150.70 172.00,149.79 173.15,148.67 C174.30,147.56 175.80,146.44 177.25,145.52 C178.71,144.60 180.16,143.78 181.88,143.16 C183.60,142.54 185.76,142.20 187.58,141.82 C189.41,141.44 191.06,141.11 192.84,140.86 C194.62,140.62 195.90,140.76 198.27,140.35 C200.64,139.95 203.49,139.05 207.05,138.45 C210.61,137.85 217.54,137.04 219.64,136.75" fill="none" stroke="#ec88ec" stroke-width="1" stroke-linejoin="miter"/>
<path d="M99.00,174.30 C102.50,174.48 113.17,175.08 120.00,175.40 C126.83,175.72 134.50,175.88 140.00,176.20 C145.50,176.52 150.28,176.92 153.00,177.30 C155.72,177.68 155.42,177.98 156.30,178.50 C157.18,179.02 157.97,180.08 158.30,180.40 L162.06,182.71 C162.90,178.56 165.78,162.88 167.08,157.80 C168.38,152.72 168.95,153.75 169.88,152.22 C170.82,150.69 171.53,149.74 172.68,148.60 C173.83,147.45 175.32,146.30 176.78,145.34 C178.24,144.38 179.70,143.52 181.44,142.85 C183.18,142.19 185.36,141.78 187.21,141.35 C189.06,140.92 190.72,140.54 192.52,140.25 C194.32,139.95 195.62,140.01 198.02,139.58 C200.41,139.15 203.30,138.28 206.90,137.68 C210.50,137.08 217.51,136.27 219.63,135.98" fill="none" stroke="#eca8f0" stroke-width="1" stroke-linejoin="miter"/>
<path d="M99.00,172.20 C102.50,172.38 113.17,172.98 120.00,173.30 C126.83,173.62 134.50,173.78 140.00,174.10 C145.50,174.42 150.28,174.82 153.00,175.20 C155.72,175.58 155.42,175.88 156.30,176.40 C157.18,176.92 157.97,177.98 158.30,178.30 L161.92,180.75 C162.70,176.92 165.36,162.55 166.61,157.80 C167.86,153.05 168.48,153.76 169.41,152.22 C170.34,150.67 171.06,149.70 172.21,148.52 C173.36,147.35 174.84,146.16 176.31,145.16 C177.77,144.17 179.24,143.26 181.00,142.55 C182.75,141.83 184.96,141.37 186.83,140.88 C188.70,140.40 190.38,139.97 192.21,139.63 C194.03,139.28 195.34,139.26 197.76,138.81 C200.19,138.36 203.11,137.51 206.75,136.91 C210.40,136.31 217.48,135.49 219.63,135.21" fill="none" stroke="#e890ec" stroke-width="1" stroke-linejoin="miter"/>
<path d="M99.00,170.10 C102.50,170.28 113.17,170.88 120.00,171.20 C126.83,171.52 134.50,171.68 140.00,172.00 C145.50,172.32 150.28,172.72 153.00,173.10 C155.72,173.48 155.42,173.78 156.30,174.30 C157.18,174.82 157.97,175.88 158.30,176.20 L161.77,178.78 C162.50,175.28 164.94,162.23 166.14,157.80 C167.33,153.37 168.00,153.77 168.94,152.22 C169.87,150.66 170.59,149.65 171.74,148.45 C172.89,147.24 174.37,146.02 175.84,144.98 C177.31,143.95 178.78,143.00 180.55,142.24 C182.32,141.48 184.57,140.95 186.46,140.41 C188.35,139.87 190.05,139.41 191.89,139.01 C193.73,138.61 195.06,138.52 197.51,138.04 C199.96,137.56 202.92,136.74 206.60,136.14 C210.29,135.54 217.45,134.72 219.63,134.44" fill="none" stroke="#dc58e0" stroke-width="1.1" stroke-linejoin="miter"/>
<path d="M99.00,168.50 C102.50,168.68 113.17,169.28 120.00,169.60 C126.83,169.92 134.50,170.08 140.00,170.40 C145.50,170.72 150.28,171.12 153.00,171.50 C155.72,171.88 155.42,172.18 156.30,172.70 C157.18,173.22 157.97,174.28 158.30,174.60 L161.63,177.32 C162.30,174.07 164.52,161.98 165.66,157.80 C166.80,153.62 167.53,153.78 168.46,152.21 C169.40,150.64 170.11,149.61 171.26,148.37 C172.41,147.14 173.89,145.88 175.36,144.80 C176.84,143.73 178.33,142.74 180.11,141.93 C181.90,141.12 184.17,140.53 186.08,139.94 C187.99,139.35 189.71,138.84 191.58,138.39 C193.44,137.94 194.78,137.77 197.26,137.26 C199.74,136.76 202.72,135.96 206.45,135.36 C210.18,134.76 217.43,133.95 219.62,133.66" fill="none" stroke="#c080f0" stroke-width="1" stroke-linejoin="miter"/>
<path d="M99.00,166.60 C102.50,166.78 113.17,167.38 120.00,167.70 C126.83,168.02 134.50,168.18 140.00,168.50 C145.50,168.82 150.28,169.22 153.00,169.60 C155.72,169.98 155.42,170.28 156.30,170.80 C157.18,171.32 157.97,172.38 158.30,172.70 L161.48,175.55 C162.10,172.60 164.11,161.69 165.19,157.80 C166.28,153.91 167.06,153.79 167.99,152.21 C168.92,150.63 169.64,149.56 170.79,148.30 C171.94,147.03 173.41,145.73 174.89,144.62 C176.37,143.51 177.87,142.48 179.67,141.63 C181.47,140.77 183.77,140.12 185.70,139.48 C187.64,138.83 189.38,138.27 191.26,137.77 C193.14,137.28 194.50,137.02 197.01,136.49 C199.52,135.96 202.53,135.19 206.30,134.59 C210.07,133.99 217.40,133.17 219.62,132.89" fill="none" stroke="#b8a0f0" stroke-width="1" stroke-linejoin="miter"/>
<path d="M99.00,163.20 C102.50,163.38 113.17,163.98 120.00,164.30 C126.83,164.62 134.50,164.78 140.00,165.10 C145.50,165.42 150.28,165.82 153.00,166.20 C155.72,166.58 155.42,166.88 156.30,167.40 C157.18,167.92 157.97,168.98 158.30,169.30 L161.34,172.29 C161.90,169.88 163.69,161.15 164.72,157.80 C165.75,154.45 166.58,153.80 167.52,152.21 C168.45,150.61 169.17,149.52 170.32,148.22 C171.47,146.93 172.93,145.59 174.42,144.44 C175.90,143.29 177.41,142.23 179.23,141.32 C181.05,140.41 183.38,139.70 185.33,139.01 C187.28,138.31 189.04,137.70 190.95,137.15 C192.85,136.61 194.22,136.27 196.76,135.72 C199.29,135.16 202.34,134.42 206.15,133.82 C209.96,133.22 217.37,132.40 219.61,132.12" fill="none" stroke="#cc30d8" stroke-width="1.3" stroke-linejoin="miter"/>
<path d="M99.00,158.60 C102.50,158.78 113.17,159.38 120.00,159.70 C126.83,160.02 134.50,160.18 140.00,160.50 C145.50,160.82 150.28,161.22 153.00,161.60 C155.72,161.98 155.42,162.28 156.30,162.80 C157.18,163.32 157.97,164.38 158.30,164.70 L161.19,167.83 C161.70,166.16 163.27,160.40 164.25,157.80 C165.22,155.20 166.11,153.81 167.05,152.21 C167.98,150.60 168.70,149.47 169.85,148.15 C171.00,146.83 172.46,145.45 173.95,144.26 C175.44,143.07 176.95,141.97 178.78,141.01 C180.62,140.06 182.98,139.28 184.95,138.54 C186.93,137.79 188.70,137.14 190.63,136.54 C192.56,135.94 193.94,135.53 196.50,134.95 C199.07,134.36 202.15,133.65 206.00,133.05 C209.85,132.45 217.34,131.63 219.61,131.35" fill="none" stroke="#a080e0" stroke-width="1" stroke-linejoin="miter"/>
<path d="M99.00,156.60 C102.50,156.78 113.17,157.38 120.00,157.70 C126.83,158.02 134.50,158.18 140.00,158.50 C145.50,158.82 150.28,159.22 153.00,159.60 C155.72,159.98 155.42,160.28 156.30,160.80 C157.18,161.32 157.97,162.38 158.30,162.70 L161.05,165.96 C161.50,164.60 162.85,160.09 163.77,157.80 C164.69,155.51 165.64,153.82 166.57,152.20 C167.51,150.58 168.22,149.43 169.37,148.07 C170.52,146.72 171.98,145.31 173.47,144.08 C174.97,142.85 176.49,141.71 178.34,140.71 C180.19,139.70 182.58,138.87 184.58,138.07 C186.57,137.27 188.37,136.57 190.32,135.92 C192.26,135.27 193.66,134.78 196.25,134.17 C198.84,133.57 201.96,132.87 205.85,132.27 C209.74,131.67 217.31,130.86 219.60,130.57" fill="none" stroke="#6a30b0" stroke-width="1" stroke-linejoin="miter"/>
<path d="M99.00,154.50 C102.50,154.68 113.17,155.28 120.00,155.60 C126.83,155.92 134.50,156.08 140.00,156.40 C145.50,156.72 150.28,157.12 153.00,157.50 C155.72,157.88 155.42,158.18 156.30,158.70 C157.18,159.22 157.97,160.28 158.30,160.60 L160.90,164.00 C161.30,162.97 162.43,159.77 163.30,157.80 C164.17,155.83 165.17,153.83 166.10,152.20 C167.03,150.57 167.75,149.38 168.90,148.00 C170.05,146.62 171.50,145.17 173.00,143.90 C174.50,142.63 176.03,141.45 177.90,140.40 C179.77,139.35 182.18,138.45 184.20,137.60 C186.22,136.75 188.03,136.00 190.00,135.30 C191.97,134.60 193.38,134.03 196.00,133.40 C198.62,132.77 201.77,132.10 205.70,131.50 C209.63,130.90 217.28,130.08 219.60,129.80" fill="none" stroke="#35106e" stroke-width="1.8" stroke-linejoin="miter"/>
<path d="M99.00,205.60 C99.83,205.73 102.17,205.90 104.00,206.40 C105.83,206.90 108.17,207.67 110.00,208.60 C111.83,209.53 113.58,210.77 115.00,212.00 C116.42,213.23 117.62,214.78 118.50,216.00 C119.38,217.22 119.72,219.38 120.30,219.30 C120.88,219.22 121.30,216.78 122.00,215.50 C122.70,214.22 123.33,212.75 124.50,211.60 C125.67,210.45 127.25,209.32 129.00,208.60 C130.75,207.88 132.53,207.68 135.00,207.30 C137.47,206.92 140.80,206.60 143.80,206.30 C146.80,206.00 149.98,205.77 153.00,205.50 C156.02,205.23 160.12,205.08 161.90,204.70 C163.68,204.32 162.90,204.53 163.70,203.20 C164.50,201.87 165.72,198.98 166.70,196.70 C167.68,194.42 168.62,191.98 169.60,189.50 C170.58,187.02 171.42,184.47 172.60,181.80 C173.78,179.13 175.43,175.92 176.70,173.50 C177.97,171.08 179.05,169.25 180.20,167.30 C181.35,165.35 182.25,163.37 183.60,161.80 C184.95,160.23 186.52,159.05 188.30,157.90 C190.08,156.75 192.12,155.90 194.30,154.90 C196.48,153.90 198.82,152.83 201.40,151.90 C203.98,150.97 206.92,150.13 209.80,149.30 C212.68,148.47 217.02,147.33 218.70,146.90 C220.38,146.47 219.70,146.73 219.90,146.70" fill="none" stroke="#3a3a3a" stroke-width="1.1"/>
<rect x="99.1" y="128.8" width="120.80" height="97.40" fill="none" stroke="#222" stroke-width="1.1"/>
<path d="M99.10,226.2 v-2.5 M125.94,226.2 v-2.5 M152.79,226.2 v-2.5 M179.63,226.2 v-2.5 M206.48,226.2 v-2.5 M112.52,226.2 v-1.5 M139.37,226.2 v-1.5 M166.21,226.2 v-1.5 M193.06,226.2 v-1.5 M99.1,226.20 h2.5 M99.1,217.63 h1.5 M99.1,209.06 h2.5 M99.1,200.49 h1.5 M99.1,191.92 h2.5 M99.1,183.35 h1.5 M99.1,174.78 h2.5 M99.1,166.21 h1.5 M99.1,157.64 h2.5 M99.1,149.07 h1.5 M99.1,140.50 h2.5 M99.1,131.93 h1.5" stroke="#222" stroke-width="0.9" fill="none"/>
<text x="99.10" y="234.8" text-anchor="middle" font-family='"Liberation Sans", Arial, sans-serif' font-size="8.5" fill="#111" stroke="#111" stroke-width="0.22">-2</text>
<text x="125.94" y="234.8" text-anchor="middle" font-family='"Liberation Sans", Arial, sans-serif' font-size="8.5" fill="#111" stroke="#111" stroke-width="0.22">-1</text>
<text x="152.79" y="234.8" text-anchor="middle" font-family='"Liberation Sans", Arial, sans-serif' font-size="8.5" fill="#111" stroke="#111" stroke-width="0.22">0</text>
<text x="179.63" y="234.8" text-anchor="middle" font-family='"Liberation Sans", Arial, sans-serif' font-size="8.5" fill="#111" stroke="#111" stroke-width="0.22">1</text>
<text x="206.48" y="234.8" text-anchor="middle" font-family='"Liberation Sans", Arial, sans-serif' font-size="8.5" fill="#111" stroke="#111" stroke-width="0.22">2</text>
<text x="96.5" y="143.40" text-anchor="end" font-family='"Liberation Sans", Arial, sans-serif' font-size="8.4" fill="#111" stroke="#111" stroke-width="0.22">10<tspan font-size="5" dy="-2.7">-4</tspan></text>
<text x="96.5" y="160.54" text-anchor="end" font-family='"Liberation Sans", Arial, sans-serif' font-size="8.4" fill="#111" stroke="#111" stroke-width="0.22">10<tspan font-size="5" dy="-2.7">-6</tspan></text>
<text x="96.5" y="177.68" text-anchor="end" font-family='"Liberation Sans", Arial, sans-serif' font-size="8.4" fill="#111" stroke="#111" stroke-width="0.22">10<tspan font-size="5" dy="-2.7">-8</tspan></text>
<text x="96.5" y="194.82" text-anchor="end" font-family='"Liberation Sans", Arial, sans-serif' font-size="8.4" fill="#111" stroke="#111" stroke-width="0.22">10<tspan font-size="5" dy="-2.7">-10</tspan></text>
<text x="96.5" y="211.96" text-anchor="end" font-family='"Liberation Sans", Arial, sans-serif' font-size="8.4" fill="#111" stroke="#111" stroke-width="0.22">10<tspan font-size="5" dy="-2.7">-12</tspan></text>
<text x="96.5" y="229.10" text-anchor="end" font-family='"Liberation Sans", Arial, sans-serif' font-size="8.4" fill="#111" stroke="#111" stroke-width="0.22">10<tspan font-size="5" dy="-2.7">-14</tspan></text>
<text x="159.5" y="249.6" text-anchor="middle" font-family='"Liberation Sans", Arial, sans-serif' font-size="10" fill="#111" stroke="#111" stroke-width="0.22">Voltage (V)</text>
<text transform="translate(74.4,177.4) rotate(-90)" text-anchor="middle" font-family='"Liberation Sans", Arial, sans-serif' font-size="10" fill="#111" stroke="#111" stroke-width="0.22">Current (A)</text>
<text x="104.7" y="144.3" textLength="41.2" lengthAdjust="spacing" font-family='"Liberation Sans", Arial, sans-serif' font-size="8.4" font-weight="bold" fill="#8a1a8a">λ<tspan font-size="5.2" dy="1.8">in</tspan><tspan dy="-1.8"> = 360 nm</tspan></text>
<text x="156.5" y="138.6" font-family='"Liberation Sans", Arial, sans-serif' font-size="8.8" font-weight="bold" fill="#8a1a8a">I<tspan font-size="6.2" dy="2.6">light</tspan></text>
<text x="131.4" y="201" font-family='"Liberation Sans", Arial, sans-serif' font-size="8.8" font-weight="bold" fill="#111" stroke="#111" stroke-width="0.1">I<tspan font-size="6.2" dy="2.6">dark</tspan></text>
<text font-family='"Liberation Sans", Arial, sans-serif' font-size="7.5" font-weight="bold" fill="#111"><tspan x="179" y="194.6">from 0.15</tspan><tspan x="179" y="204.2">to 228.83</tspan><tspan x="179" y="213.8">μW/cm<tspan font-size="5" dy="-3">2</tspan></tspan></text>
<rect x="271.0" y="148.43" width="17" height="77.97" fill="#36a29c" stroke="#1a3a3a" stroke-width="0.9"/>
<text x="279.5" y="145.93" text-anchor="middle" font-family='"Liberation Sans", Arial, sans-serif' font-size="7.5" fill="#111" stroke="#111" stroke-width="0.22">681</text>
<rect x="309.0" y="151.29" width="17" height="75.11" fill="#36a29c" stroke="#1a3a3a" stroke-width="0.9"/>
<text x="317.5" y="148.79" text-anchor="middle" font-family='"Liberation Sans", Arial, sans-serif' font-size="7.5" fill="#111" stroke="#111" stroke-width="0.22">656</text>
<rect x="347.0" y="156.56" width="17" height="69.84" fill="#36a29c" stroke="#1a3a3a" stroke-width="0.9"/>
<text x="355.5" y="154.06" text-anchor="middle" font-family='"Liberation Sans", Arial, sans-serif' font-size="7.5" fill="#111" stroke="#111" stroke-width="0.22">610</text>
<rect x="256.7" y="128.5" width="121.90" height="97.90" fill="none" stroke="#222" stroke-width="1.1"/>
<path d="M256.7,226.40 h2.5 M256.7,214.95 h1.5 M256.7,203.50 h2.5 M256.7,192.05 h1.5 M256.7,180.60 h2.5 M256.7,169.15 h1.5 M256.7,157.70 h2.5 M256.7,146.25 h1.5 M256.7,134.80 h2.5 M279.5,226.4 v-2 M317.5,226.4 v-2 M355.5,226.4 v-2" stroke="#222" stroke-width="0.9" fill="none"/>
<text x="254" y="229.20" text-anchor="end" font-family='"Liberation Sans", Arial, sans-serif' font-size="8" fill="#111" stroke="#111" stroke-width="0.22">0</text>
<text x="254" y="206.30" text-anchor="end" font-family='"Liberation Sans", Arial, sans-serif' font-size="8" fill="#111" stroke="#111" stroke-width="0.22">200</text>
<text x="254" y="183.40" text-anchor="end" font-family='"Liberation Sans", Arial, sans-serif' font-size="8" fill="#111" stroke="#111" stroke-width="0.22">400</text>
<text x="254" y="160.50" text-anchor="end" font-family='"Liberation Sans", Arial, sans-serif' font-size="8" fill="#111" stroke="#111" stroke-width="0.22">600</text>
<text x="254" y="137.60" text-anchor="end" font-family='"Liberation Sans", Arial, sans-serif' font-size="8" fill="#111" stroke="#111" stroke-width="0.22">800</text>
<text x="279.6" y="236.2" text-anchor="middle" font-family='"Liberation Sans", Arial, sans-serif' font-size="8" fill="#111" stroke="#111" stroke-width="0.22">fresh</text>
<text x="316.6" y="236.2" text-anchor="middle" font-family='"Liberation Sans", Arial, sans-serif' font-size="8" fill="#111" stroke="#111" stroke-width="0.22">3 months</text>
<text x="357.9" y="236.2" text-anchor="middle" font-family='"Liberation Sans", Arial, sans-serif' font-size="8" fill="#111" stroke="#111" stroke-width="0.22">12 months</text>
<text x="317.5" y="249.6" text-anchor="middle" font-family='"Liberation Sans", Arial, sans-serif' font-size="10" fill="#111" stroke="#111" stroke-width="0.22">Storing time</text>
<text transform="translate(237.1,177.7) rotate(-90)" text-anchor="middle" font-family='"Liberation Sans", Arial, sans-serif' font-size="9.9" fill="#111" stroke="#111" stroke-width="0.22">R (mA W<tspan font-size="6" dy="-3.2">−1</tspan><tspan dy="3.2">)</tspan></text>
<text x="375.4" y="137.8" text-anchor="end" font-family='"Liberation Sans", Arial, sans-serif' font-size="7.4" font-weight="bold" fill="#8a1a8a">360 nm illumination</text>
</svg>
</body></html>
